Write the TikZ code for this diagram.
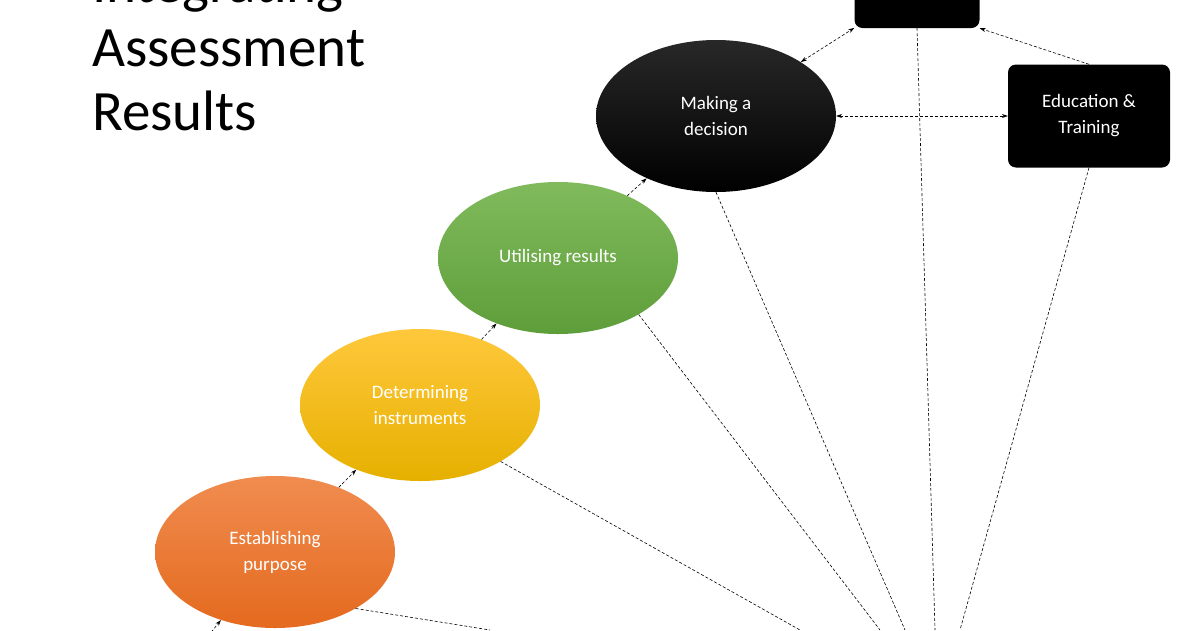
\documentclass[tikz,border=0pt]{standalone}
\usepackage{fontspec}
\setmainfont{Carlito}
\usetikzlibrary{shapes.geometric,arrows.meta}
\begin{document}
\begin{tikzpicture}[x=1pt,y=-1pt,
 ell/.style={ellipse,minimum width=240pt,minimum height=152pt,text=white,font=\fontsize{19}{26}\selectfont,align=center,inner sep=0pt},
 box/.style={rounded corners=8pt,fill=black,text=white,font=\fontsize{19}{26}\selectfont,align=center},
 ttl/.style={anchor=base west,font=\fontsize{57}{64}\selectfont,inner sep=0pt},
 dl/.style={densely dashed,line width=0.6pt},
 da/.style={dl,-{Stealth[length=6pt,width=4pt]}},
 dda/.style={dl,{Stealth[length=6pt,width=4pt]}-{Stealth[length=6pt,width=4pt]}}]
\useasboundingbox (0,0) rectangle (1200,630);
\clip (0,0) rectangle (1200,630);
\fill[white] (0,0) rectangle (1200,630);
\node[ttl] (t1) at (92,2) {Integrating};
\node[ttl] (t2) at (92,66) {Assessment};
\node[ttl] (t3) at (92,130) {Results};
\node[ell,top color={rgb,255:red,240;green,140;blue,80},bottom color={rgb,255:red,228;green,106;blue,30}] (e) at (275,552) {Establishing\\purpose};
\node[ell,top color={rgb,255:red,255;green,200;blue,60},bottom color={rgb,255:red,230;green,176;blue,0}] (d) at (420,405) {Determining\\instruments};
\node[ell,top color={rgb,255:red,128;green,186;blue,92},bottom color={rgb,255:red,94;green,158;blue,58}] (u) at (558,258) {Utilising results};
\node[ell,top color={rgb,255:red,40;green,40;blue,40},bottom color=black] (m) at (716,116) {Making a\\decision};
\node[box,minimum width=162pt,minimum height=103pt] (ed) at (1089,116) {Education \&\\Training};
\node[box,minimum width=125pt,minimum height=80pt] (tb) at (917,-12) {};
\coordinate (below) at (205,640);
\coordinate (h1) at (490,630);
\coordinate (h2) at (800,630);
\coordinate (h3) at (880,630);
\coordinate (h4) at (905,630);
\coordinate (h5) at (935,630);
\coordinate (h6) at (960,630);
\draw[da] (below) -- (e);
\draw[da] (e) -- (d);
\draw[da] (d) -- (u);
\draw[da] (u) -- (m);
\draw[dda] (m) -- (tb);
\draw[dda] (m.east) -- (ed.west);
\draw[da] (ed.north) -- (tb.south east);
\draw[dl] (e.-35) -- (h1);
\draw[dl] (d.-35) -- (h2);
\draw[dl] (u.-35) -- (h3);
\draw[dl] (m.-90) -- (h4);
\draw[dl] (tb.south) -- (h5);
\draw[dl] (ed.south) -- (h6);
\end{tikzpicture}
\end{document}
